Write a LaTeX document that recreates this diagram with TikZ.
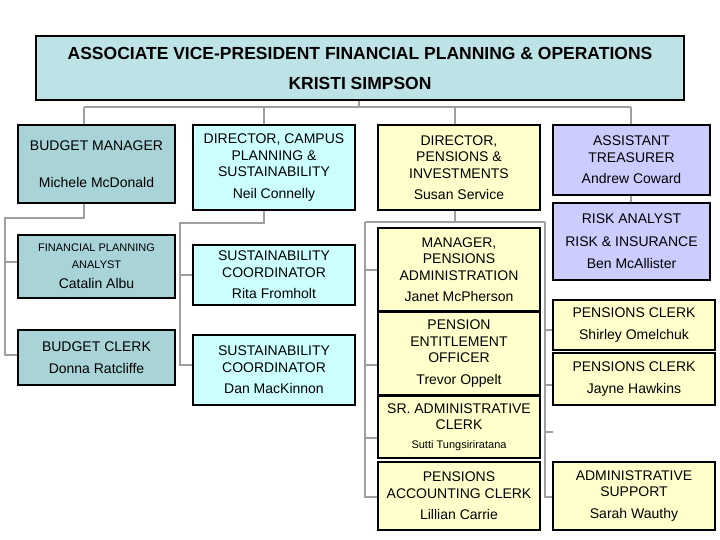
\documentclass[tikz,border=0pt]{standalone}
\usepackage{fontspec}
\setmainfont{Liberation Sans}
\begin{document}
\begin{tikzpicture}[x=1pt,y=-1pt,
 box/.style={draw=black,line width=2.2pt,align=center,inner sep=1pt,font=\fontsize{14}{16.5}\selectfont},
 conn/.style={draw=gray!75,line width=1.3pt},
 teal/.style={fill=tealA}, cyan/.style={fill=cyanA}, yel/.style={fill=yelA}, lav/.style={fill=lavA}]
\definecolor{tealA}{HTML}{A8D4D8}
\definecolor{topA}{HTML}{BDE3E6}
\definecolor{cyanA}{HTML}{CCFFFF}
\definecolor{yelA}{HTML}{FFFFCC}
\definecolor{lavA}{HTML}{CCCCFF}
\useasboundingbox[fill=white] (0,0) rectangle (720,540);
% connectors
\coordinate (b0) at (84,107); \coordinate (b1) at (264,107); \coordinate (b2) at (455,107); \coordinate (b3) at (631,107);
\coordinate (bmL) at (84,218); \coordinate (bmV) at (5,218);
\coordinate (dcL) at (264,223); \coordinate (dcV) at (180,223);
\coordinate (dpL) at (455,222); \coordinate (dpV) at (365,222); \coordinate (dpW) at (545,222);
\draw[conn] (359,100) -- (359,107);
\draw[conn] (b0) -- (b3);
\draw[conn] (b0) -- (84,125); \draw[conn] (b1) -- (264,125); \draw[conn] (b2) -- (455,125); \draw[conn] (b3) -- (631,125);
\draw[conn] (631,195) -- (631,203);
\draw[conn] (84,203) -- (bmL) -- (bmV) -- (5,355) -- (18,355);
\draw[conn] (5,262) -- (18,262);
\draw[conn] (264,210) -- (dcL) -- (dcV) -- (180,365) -- (193,365);
\draw[conn] (180,275) -- (193,275);
\draw[conn] (455,210) -- (dpL);
\draw[conn] (dpV) -- (dpW);
\draw[conn] (dpV) -- (365,497) -- (378,497);
\foreach \y in {270,365,438} \draw[conn] (365,\y) -- (378,\y);
\draw[conn] (dpW) -- (545,497) -- (553,497);
\foreach \y in {330,385,432} \draw[conn] (545,\y) -- (553,\y);
% boxes
\node[box,fill=topA,minimum width=648pt,minimum height=64pt,font=\bfseries\fontsize{17.5}{20}\selectfont] (top) at (360,68) {ASSOCIATE VICE-PRESIDENT FINANCIAL PLANNING \& OPERATIONS\\[10pt]KRISTI SIMPSON};
\node[box,teal,minimum width=157pt,minimum height=78pt] (bm) at (96.5,164) {BUDGET MANAGER\\[20pt]Michele McDonald};
\node[box,cyan,minimum width=162pt,minimum height=85pt] (dc) at (274,167.5) {DIRECTOR, CAMPUS\\PLANNING \&\\SUSTAINABILITY\\[5pt]Neil Connelly};
\node[box,yel,minimum width=162pt,minimum height=85pt] (dp) at (459,167.5) {DIRECTOR,\\PENSIONS \&\\INVESTMENTS\\[5pt]Susan Service};
\node[box,lav,minimum width=157pt,minimum height=70pt] (at) at (631.5,160) {ASSISTANT\\TREASURER\\[5pt]Andrew Coward};
\node[box,lav,minimum width=157pt,minimum height=77pt] (ra) at (631.5,241.5) {RISK ANALYST\\[6pt]RISK \& INSURANCE\\[6pt]Ben McAllister};
\node[box,teal,minimum width=157pt,minimum height=63pt] (fpa) at (96.5,266.5) {{\fontsize{11}{13}\selectfont FINANCIAL PLANNING}\\{\fontsize{11}{13}\selectfont ANALYST}\\[4pt]Catalin Albu};
\node[box,teal,minimum width=157pt,minimum height=55pt] (bc) at (96.5,357.5) {BUDGET CLERK\\[5pt]Donna Ratcliffe};
\node[box,cyan,minimum width=162pt,minimum height=60pt] (s1) at (274,275) {SUSTAINABILITY\\COORDINATOR\\[5pt]Rita Fromholt};
\node[box,cyan,minimum width=162pt,minimum height=70pt] (s2) at (274,370) {SUSTAINABILITY\\COORDINATOR\\[5pt]Dan MacKinnon};
\node[box,yel,minimum width=162pt,minimum height=83pt] (mp) at (459,269.5) {MANAGER,\\PENSIONS\\ADMINISTRATION\\[5pt]Janet McPherson};
\node[box,yel,minimum width=162pt,minimum height=83pt] (pe) at (459,353.5) {PENSION\\ENTITLEMENT\\OFFICER\\[5pt]Trevor Oppelt};
\node[box,yel,minimum width=162pt,minimum height=62pt] (sr) at (459,427) {SR. ADMINISTRATIVE\\CLERK\\[2pt]{\fontsize{11}{13}\selectfont Sutti Tungsiriratana}};
\node[box,yel,minimum width=162pt,minimum height=68pt] (pa) at (459,496) {PENSIONS\\ACCOUNTING CLERK\\[5pt]Lillian Carrie};
\node[box,yel,minimum width=162pt,minimum height=50pt] (c1) at (634,325) {PENSIONS CLERK\\[5pt]Shirley Omelchuk};
\node[box,yel,minimum width=162pt,minimum height=52pt] (c2) at (634,379) {PENSIONS CLERK\\[5pt]Jayne Hawkins};
\node[box,yel,minimum width=162pt,minimum height=68pt] (as) at (634,496) {ADMINISTRATIVE\\SUPPORT\\[5pt]Sarah Wauthy};
\end{tikzpicture}
\end{document}
